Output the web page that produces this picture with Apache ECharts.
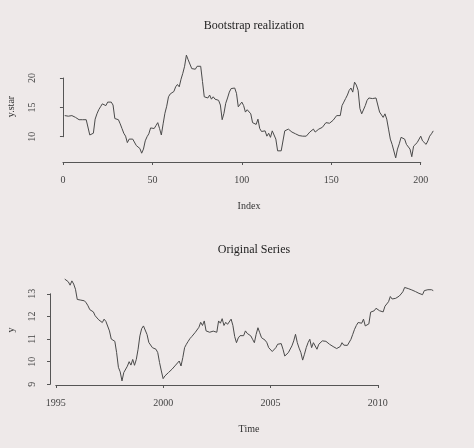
<!DOCTYPE html>
<html>
<head>
<meta charset="utf-8">
<title>Bootstrap realization</title>
<script src="https://cdn.jsdelivr.net/npm/echarts@6/dist/echarts.min.js"></script>
<style>
  html, body { margin: 0; padding: 0; background: #eee9e9; }
  #chart { width: 474px; height: 448px; }
</style>
</head>
<body>
<div id="chart"></div>
<script>
// bootstrap realization, y.star by index 1..207
var yStar = [
  13.6, 13.6, 13.5, 13.5, 13.6, 13.4, 13.3, 13.0, 12.9, 12.9,
  12.9, 12.9, 12.9, 12.8, 10.3, 10.4, 10.6, 13.0, 13.9, 14.6,
  15.1, 15.6, 15.4, 15.3, 15.9, 16.1, 15.9, 15.4, 13.1, 13.0,
  12.9, 12.2, 11.4, 10.6, 10.1, 9.0, 9.6, 9.7, 9.6, 9.3,
  8.5, 8.2, 8.0, 7.2, 7.9, 9.3, 10.0, 10.5, 11.5, 11.4,
  11.4, 11.9, 12.4, 11.4, 10.3, 12.2, 14.0, 15.2, 16.8, 17.3,
  17.5, 17.7, 18.5, 18.9, 18.5, 19.8, 20.8, 22.0, 23.9, 23.1,
  22.9, 21.6, 21.4, 21.5, 22.0, 22.1, 22.0, 19.4, 16.8, 16.5,
  16.6, 17.1, 16.4, 16.8, 16.4, 16.3, 16.2, 15.4, 12.9, 14.0,
  15.7, 16.6, 17.6, 18.2, 18.5, 18.3, 17.4, 15.1, 14.9, 15.9,
  15.3, 14.2, 14.6, 14.5, 13.9, 12.4, 12.2, 12.1, 13.0, 11.4,
  10.9, 10.8, 11.0, 10.1, 10.6, 9.9, 11.0, 10.8, 9.6, 7.6,
  7.6, 7.6, 7.7, 11.0, 11.0, 11.3, 11.3, 10.8, 10.8, 10.5,
  10.4, 10.2, 10.3, 10.1, 10.3, 10.1, 10.3, 10.8, 10.5, 11.3,
  10.8, 11.1, 11.3, 11.6, 11.6, 11.6, 12.4, 12.4, 12.3, 12.5,
  12.8, 13.0, 13.6, 13.9, 13.6, 15.3, 15.9, 16.5, 17.1, 17.9,
  18.3, 17.6, 19.3, 18.8, 17.9, 14.8, 13.9, 13.6, 15.3, 16.2,
  16.6, 16.4, 16.5, 16.6, 16.6, 16.6, 14.2, 14.5, 13.3, 13.9,
  13.0, 11.3, 9.6, 8.7, 8.5, 6.4, 7.9, 8.8, 9.9, 10.1,
  9.6, 8.7, 8.5, 7.9, 6.6, 8.4, 8.5, 9.0, 9.3, 10.1,
  9.3, 9.0, 8.7, 9.3, 10.1, 10.5, 11.0
];

// original monthly series y
var yOrig = [
  13.65, 13.6, 13.53, 13.38, 13.57, 13.43, 13.2, 12.75, 12.7, 12.72,
  12.68, 12.69, 12.6, 12.47, 12.3, 12.22, 12.2, 12.03, 12.05, 11.85,
  11.8, 11.73, 11.88, 11.78, 11.72, 11.36, 11.0, 11.02, 10.9, 10.4,
  9.75, 9.55, 9.15, 9.52, 9.6, 9.8, 10.0, 9.85, 10.1, 9.84,
  10.1, 10.55, 11.14, 11.46, 11.58, 11.55, 11.2, 10.85, 10.9, 10.62,
  10.6, 10.55, 10.4, 9.96, 9.59, 9.25, 9.37, 9.45, 9.52, 9.6,
  9.67, 9.74, 9.85, 9.92, 10.03, 9.81, 10.18, 10.62, 10.77, 10.9,
  11.02, 11.11, 11.06, 11.3, 11.25, 11.52, 11.74, 11.6, 11.8, 11.36,
  11.33, 11.3, 11.26, 11.35, 11.4, 11.3, 11.8, 11.7, 11.9, 11.6,
  11.74, 11.65, 11.7, 11.88, 11.6, 11.11, 10.84, 11.05, 11.15, 11.21,
  11.15, 11.36, 11.25, 11.2, 11.14, 10.99, 10.84, 11.21, 11.5, 11.28,
  11.06, 11.05, 10.95, 10.84, 10.62, 10.58, 10.45, 10.5, 10.62, 10.77,
  10.8, 10.8, 10.55, 10.25, 10.23, 10.4, 10.38, 10.7, 10.92, 11.21,
  10.84, 10.6, 10.4, 10.07, 10.33, 10.62, 10.84, 10.99, 10.62, 10.84,
  10.77, 10.55, 10.77, 10.85, 10.92, 10.99, 10.9, 10.84, 10.77, 10.7,
  10.67, 10.62, 10.58, 10.52, 10.67, 10.84, 10.73, 10.67, 10.72, 10.8,
  10.99, 11.21, 11.43, 11.6, 11.73, 11.8, 11.7, 11.88, 11.58, 11.6,
  11.67, 12.19, 12.22, 12.25, 12.36, 12.39, 12.25, 12.2, 12.2, 12.45,
  12.55, 12.65, 12.88, 12.77, 12.75, 12.8, 12.88, 12.9, 12.99, 13.09,
  13.28, 13.25, 13.23, 13.2, 13.17, 13.14, 13.1, 13.06, 13.02, 13.05,
  12.96, 13.14, 13.1, 13.18, 13.16, 13.18, 13.14
];
var tsStart = 1995 + 5 / 12; // June 1995
var tsFreq = 12;

var xTicksTop = [0, 50, 100, 150, 200];
var yTicksTop = [10, 15, 20];
var xTicksBot = [1995, 2000, 2005, 2010];
var yTicksBot = [9, 10, 11, 12, 13];

var FONT = '"Liberation Serif", "DejaVu Serif", serif';
var plotLeft = 50, plotRight = 448;

// R pads the data range by 4% on each side
function rRange(arr) {
    var lo = Math.min.apply(null, arr), hi = Math.max.apply(null, arr);
    var d = (hi - lo) * 0.04;
    return [lo - d, hi + d];
}

var option = {
    backgroundColor: '#eee9e9',
    animation: false,
    title: [],
    grid: [],
    xAxis: [],
    yAxis: [],
    series: []
};

function addPanel(k, xs, ys, xTicks, yTicks, main, xlab, ylab, top, bottom) {
    var xr = rRange(xs), yr = rRange(ys);
    var X = function (v) { return plotLeft + (v - xr[0]) / (xr[1] - xr[0]) * (plotRight - plotLeft); };
    var Y = function (v) { return bottom - (v - yr[0]) / (yr[1] - yr[0]) * (bottom - top); };
    var xt0 = xTicks[0], xt1 = xTicks[xTicks.length - 1];
    var yt0 = yTicks[0], yt1 = yTicks[yTicks.length - 1];

    option.title.push({
        text: main, left: (plotLeft + plotRight) / 2, top: top - 36, textAlign: 'center',
        textStyle: {fontFamily: FONT, fontSize: 12, fontWeight: 'normal', color: '#222'}
    });

    // data grid (plot region)
    option.grid.push({left: plotLeft, top: top, width: plotRight - plotLeft, height: bottom - top,
        outerBoundsMode: 'none', containLabel: false});
    // tick grid: spans only the pretty tick range, axes pushed out to the plot edges
    option.grid.push({left: X(xt0), top: Y(yt1), width: X(xt1) - X(xt0), height: Y(yt0) - Y(yt1),
        outerBoundsMode: 'none', containLabel: false});

    var nameStyle = {fontFamily: FONT, fontSize: 10, color: '#333'};
    var lineStyle = {color: '#555', width: 1};
    var labelStyle = {fontFamily: FONT, fontSize: 10, color: '#444', margin: 13,
        showMinLabel: true, showMaxLabel: true,
        formatter: function (v) { return String(v); }};

    option.xAxis.push({
        gridIndex: 2 * k, type: 'value', min: xr[0], max: xr[1],
        axisLine: {show: false}, axisTick: {show: false}, axisLabel: {show: false}, splitLine: {show: false},
        name: xlab, nameLocation: 'middle', nameGap: 39, nameTextStyle: nameStyle
    });
    option.yAxis.push({
        gridIndex: 2 * k, type: 'value', min: yr[0], max: yr[1],
        axisLine: {show: false}, axisTick: {show: false}, axisLabel: {show: false}, splitLine: {show: false},
        name: ylab, nameLocation: 'middle', nameGap: 34, nameTextStyle: nameStyle
    });
    option.xAxis.push({
        gridIndex: 2 * k + 1, type: 'value', min: xt0, max: xt1, interval: xTicks[1] - xTicks[0],
        position: 'bottom', offset: bottom - Y(yt0),
        axisLine: {show: true, lineStyle: lineStyle},
        axisTick: {show: true, length: 3, lineStyle: lineStyle},
        axisLabel: labelStyle, splitLine: {show: false}
    });
    option.yAxis.push({
        gridIndex: 2 * k + 1, type: 'value', min: yt0, max: yt1, interval: yTicks[1] - yTicks[0],
        position: 'left', offset: X(xt0) - plotLeft,
        axisLine: {show: true, lineStyle: lineStyle},
        axisTick: {show: true, length: 3, lineStyle: lineStyle},
        axisLabel: Object.assign({rotate: 90}, labelStyle), splitLine: {show: false}
    });

    option.series.push({
        type: 'line', xAxisIndex: 2 * k, yAxisIndex: 2 * k,
        showSymbol: false, silent: true,
        lineStyle: {color: '#4a4a4a', width: 1},
        data: xs.map(function (x, i) { return [x, ys[i]]; })
    });
}

var indexTop = yStar.map(function (v, i) { return i + 1; });
var timeBot = yOrig.map(function (v, i) { return tsStart + i / tsFreq; });

addPanel(0, indexTop, yStar, xTicksTop, yTicksTop, 'Bootstrap realization', 'Index', 'y.star', 51, 162);
addPanel(1, timeBot, yOrig, xTicksBot, yTicksBot, 'Original Series', 'Time', 'y', 275, 385);

var chart = echarts.init(document.getElementById('chart'));
chart.setOption(option);
</script>
</body>
</html>
